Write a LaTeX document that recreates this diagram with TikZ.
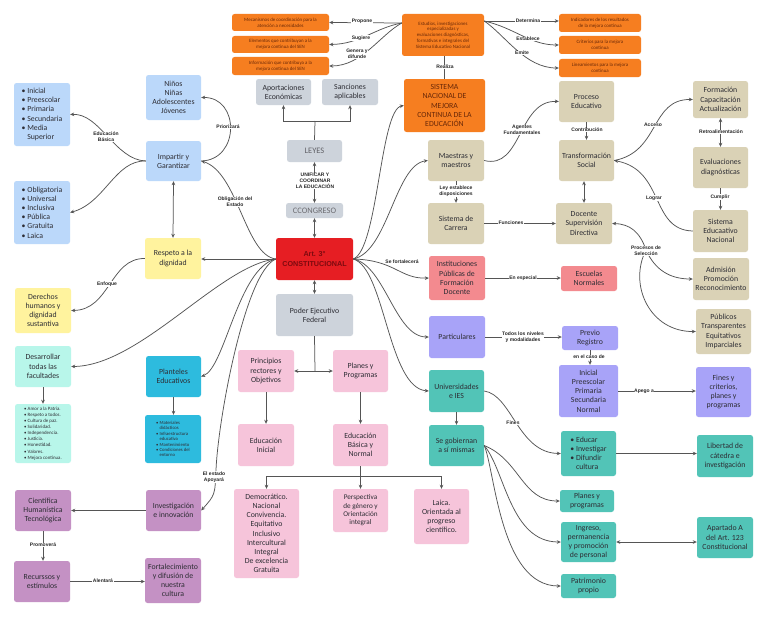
\documentclass[tikz,border=0pt]{standalone}
\usepackage{fontspec}
\setmainfont{Carlito}
\newfontfamily\labfont{Liberation Sans}
\usetikzlibrary{arrows.meta}
\definecolor{org}{RGB}{246,126,32}
\definecolor{orgtx}{RGB}{105,40,8}
\definecolor{redb}{RGB}{230,30,35}
\definecolor{redtx}{RGB}{125,10,15}
\definecolor{gry}{RGB}{205,211,219}
\definecolor{blu}{RGB}{187,216,250}
\definecolor{yel}{RGB}{255,243,158}
\definecolor{mnt}{RGB}{184,246,234}
\definecolor{cya}{RGB}{45,187,222}
\definecolor{pur}{RGB}{196,145,196}
\definecolor{pnk}{RGB}{246,196,218}
\definecolor{bge}{RGB}{218,210,182}
\definecolor{slm}{RGB}{243,138,143}
\definecolor{lav}{RGB}{168,163,248}
\definecolor{tea}{RGB}{82,196,183}
\definecolor{txt}{RGB}{45,45,52}
\definecolor{ln}{RGB}{85,85,85}
\newcommand\bxf{\fontsize{7.8}{9.2}\selectfont}
\newcommand\lbf{\labfont\fontsize{5}{6}\selectfont\bfseries}
\newcommand\smf{\fontsize{4.9}{5.8}\selectfont}
\newcommand\lsf{\fontsize{4.9}{6.1}\selectfont}
\newcommand\psf{\fontsize{4.7}{5.4}\selectfont}
\newcommand\bx[7]{%
 \pgfmathsetmacro\bxw{#4-#2}\pgfmathsetmacro\bxh{#5-#3}%
 \pgfmathsetmacro\bxx{(#2+#4)/2}\pgfmathsetmacro\bxy{(#3+#5)/2}%
 \node[box,#6,minimum width=\bxw pt,minimum height=\bxh pt] (#1) at (\bxx,\bxy) {#7};}
\tikzset{
 box/.style={rectangle,rounded corners=2.5pt,draw=none,align=center,text=txt,font=\bxf,inner sep=1pt},
 lab/.style={font=\lbf,text=black!85,align=center,inner sep=0.6pt,fill=white},
 arr/.style={draw=ln,line width=0.75pt,-{Stealth[length=4pt,width=3.6pt]}},
 darr/.style={draw=ln,line width=0.75pt,{Stealth[length=4pt,width=3.6pt]}-{Stealth[length=4pt,width=3.6pt]}},
 pline/.style={draw=ln,line width=0.75pt},
 sOrg/.style={fill=org,text=orgtx},
 sOrgS/.style={fill=org,text=orgtx,font=\smf},
 sRed/.style={fill=redb,text=redtx,font=\labfont\fontsize{7.2}{9.2}\selectfont\bfseries},
 sGry/.style={fill=gry},
 sBlu/.style={fill=blu},
 sYel/.style={fill=yel},
 sMnt/.style={fill=mnt},
 sCya/.style={fill=cya},
 sPur/.style={fill=pur},
 sPnk/.style={fill=pnk},
 sBge/.style={fill=bge},
 sSlm/.style={fill=slm},
 sLav/.style={fill=lav},
 sTea/.style={fill=tea},
}
\begin{document}
\begin{tikzpicture}[x=1pt,y=-1pt]
\fill[white] (0,0) rectangle (768,618);
\useasboundingbox (0,0) rectangle (768,618);
% ---- top orange
\bx{mec}{232}{14}{329}{31}{sOrgS}{Mecanismos de coordinación para la\\atención a necesidades}
\bx{ele}{232}{36}{329}{53}{sOrgS}{Elementos que contribuyan a la\\mejora continua del SEN}
\bx{inf}{232}{57}{329}{75}{sOrgS}{Información que contribuya a la\\mejora continua del SEN}
\bx{est}{402}{14}{484}{56}{sOrgS}{Estudios, investigaciones\\especializadas y\\evaluaciones diagnósticas,\\formativas e integrales del\\Sistema Educativo Nacional}
\bx{ind}{559}{14}{641}{32}{sOrgS}{Indicadores de los resultados\\de la mejora continua}
\bx{cri}{559}{36}{641}{54}{sOrgS}{Criterios para la mejora\\continua}
\bx{lin}{559}{59}{641}{77}{sOrgS}{Lineamientos para la mejora\\continua}
\bx{sis}{404}{79}{485}{132}{sOrg}{SISTEMA\\NACIONAL DE\\MEJORA\\CONTINUA DE LA\\EDUCACIÓN}
% ---- center column
\bx{apo}{256}{79}{311}{105}{sGry}{Aportaciones\\Económicas}
\bx{san}{322}{79}{378}{105}{sGry}{Sanciones\\aplicables}
\bx{ley}{287}{140}{342}{162}{sGry,text=txt!75,font=\fontsize{8.4}{9}\selectfont}{LEYES}
\bx{con}{286}{203}{343}{218}{sGry,text=txt!70,font=\fontsize{8.4}{9}\selectfont}{CCONGRESO}
\bx{art}{276}{238}{353}{280}{sRed}{Art. 3°\\CONSTITUCIONAL}
\bx{pod}{276}{294}{353}{336}{sGry}{Poder Ejecutivo\\Federal}
\bx{pri}{238}{350}{294}{392}{sPnk}{Principios\\rectores y\\Objetivos}
\bx{ppr}{333}{350}{388}{392}{sPnk}{Planes y\\Programas}
\bx{edi}{238}{424}{294}{466}{sPnk}{Educación\\Inicial}
\bx{edb}{333}{424}{388}{466}{sPnk}{Educación\\Básica y\\Normal}
\bx{dem}{234}{489}{299}{578}{sPnk}{Democrático.\\Nacional\\Convivencia.\\Equitativo\\Inclusivo\\Intercultural\\Integral\\De excelencia\\Gratuita}
\bx{per}{333}{489}{388}{532}{sPnk,font=\fontsize{7.2}{8.4}\selectfont}{Perspectiva\\de género y\\Orientación\\integral}
\bx{lai}{414}{489}{469}{544}{sPnk}{Laica.\\Orientada al\\progreso\\científico.}
% ---- left side
\bx{nin}{146}{75}{201}{120}{sBlu}{Niños\\Niñas\\Adolescentes\\Jóvenes}
\bx{imp}{146}{141}{201}{181}{sBlu}{Impartir y\\Garantizar}
\bx{ini}{14}{83}{70}{146}{sBlu,align=left}{• Inicial\\• Preescolar\\• Primaria\\• Secundaria\\• Media\\\hphantom{• }Superior}
\bx{obl}{14}{181}{70}{244}{sBlu,align=left}{• Obligatoria\\• Universal\\• Inclusiva\\• Pública\\• Gratuita\\• Laica}
\bx{res}{145}{238}{201}{279}{sYel}{Respeto a la\\dignidad}
\bx{der}{15}{288}{71}{333}{sYel}{Derechos\\humanos y\\dignidad\\sustantiva}
\bx{des}{15}{346}{71}{387}{sMnt}{Desarrollar\\todas las\\facultades}
\bx{amo}{15}{404}{71}{463}{sMnt,align=left,font=\lsf}{• Amor a la Patria.\\• Respeto a todos.\\• Cultura de paz.\\• Solidaridad.\\• Independencia.\\• Justicia.\\• Honestidad.\\• Valores.\\• Mejora continua.}
\bx{pla}{146}{356}{201}{397}{sCya}{Planteles\\Educativos}
\bx{pll}{145}{415}{201}{463}{sCya,align=left,font=\psf}{• Materiales\\\hphantom{• }didácticos\\• Infraestructura\\\hphantom{• }educativa\\• Mantenimiento\\• Condiciones del\\\hphantom{• }entorno}
\bx{inv}{146}{490}{201}{531}{sPur}{Investigación\\e innovación}
\bx{cie}{15}{490}{71}{531}{sPur}{Científica\\Humanística\\Tecnológica}
\bx{rec}{14}{561}{70}{602}{sPur}{Recurssos y\\estímulos}
\bx{fort}{145}{558}{201}{603}{sPur}{Fortalecimiento\\y difusión de\\nuestra\\cultura}
% ---- right side
\bx{mae}{428}{140}{484}{181}{sBge}{Maestras y\\maestros}
\bx{pro}{559}{81}{614}{122}{sBge}{Proceso\\Educativo}
\bx{tra}{559}{140}{614}{181}{sBge}{Transformación\\Social}
\bx{car}{428}{203}{484}{244}{sBge}{Sistema de\\Carrera}
\bx{doc}{556}{203}{612}{244}{sBge}{Docente\\Supervisión\\Directiva}
\bx{ipf}{429}{256}{485}{300}{sSlm}{Instituciones\\Públicas de\\Formación\\Docente}
\bx{esc}{561}{266}{617}{291}{sSlm}{Escuelas\\Normales}
\bx{par}{429}{316}{485}{358}{sLav}{Particulares}
\bx{prv}{562}{326}{618}{350}{sLav}{Previo\\Registro}
\bx{inl}{559}{365}{618}{417}{sLav}{Inicial\\Preescolar\\Primaria\\Secundaria\\Normal}
\bx{fin}{696}{367}{751}{417}{sLav}{Fines y\\criterios,\\planes y\\programas}
\bx{uni}{429}{370}{484}{412}{sTea}{Universidades\\e IES}
\bx{gob}{429}{425}{484}{466}{sTea}{Se gobiernan\\a sí mismas}
\bx{edu}{561}{431}{616}{476}{sTea,align=left}{• Educar\\• Investigar\\• Difundir\\\hphantom{• }cultura}
\bx{lib}{697}{435}{753}{477}{sTea}{Libertad de\\cátedra e\\investigación}
\bx{plp}{560}{490}{614}{512}{sTea}{Planes y\\programas}
\bx{ing}{561}{522}{616}{562}{sTea}{Ingreso,\\permanencia\\y promoción\\de personal}
\bx{apa}{697}{517}{753}{558}{sTea}{Apartado A\\del Art. 123\\Constitucional}
\bx{pat}{561}{574}{616}{598}{sTea}{Patrimonio\\propio}
\bx{for}{693}{81}{748}{118}{sBge}{Formación\\Capacitación\\Actualización}
\bx{eva}{693}{147}{748}{188}{sBge}{Evaluaciones\\diagnósticas}
\bx{sen}{693}{210}{748}{252}{sBge}{Sistema\\Educaativo\\Nacional}
\bx{adm}{693}{258}{749}{300}{sBge}{Admisión\\Promoción\\Reconocimiento}
\bx{pub}{696}{309}{751}{354}{sBge}{Públicos\\Transparentes\\Equitativos\\Imparciales}
% ---- connectors: top
\coordinate (el) at ([yshift=12pt]est.west);
\coordinate (er) at ([yshift=14pt]est.east);
\draw[arr] (el) -- (mec.east);
\draw[arr] (el) .. controls (375,28) and (360,44) .. (ele.east);
\draw[arr] (el) .. controls (380,35) and (362,66) .. (inf.east);
\draw[arr] (er) -- (er -| ind.west);
\draw[arr] (er) .. controls (515,28) and (530,45) .. (cri.west);
\draw[arr] (er) .. controls (505,35) and (525,68) .. (lin.west);
\draw[pline] (sis.north) -- (sis.north |- est.south);
\node[lab] (lprop) at (362,21) {Propone};
\node[lab] (lsug) at (361,38) {Sugiere};
\node[lab] (lgen) at (357,54) {Genera y\\difunde};
\node[lab] (ldet) at (528,21) {Determina};
\node[lab] (lest) at (528,39) {Establece};
\node[lab] (lemi) at (522,53) {Emite};
\node[lab] (lrea) at (445,67) {Realiza};
% ---- center
\coordinate (lt) at (315,121);
\draw[pline] (ley.north) -- (lt);
\draw[arr] (lt) -| (apo.south);
\draw[arr] (lt) -| (san.south);
\draw[darr] (con.north) -- (ley.south);
\node[lab] (luni) at (315,181) {UNIFICAR Y\\COORDINAR\\LA EDUCACIÓN};
\draw[darr] (art.north) -- (con.south);
\draw[darr] (art.south) -- (pod.north);
\coordinate (pt) at (315,371);
\draw[pline] (pod.south) -- (pt);
\draw[arr] (pt) -- (pri.east);
\draw[arr] (pt) -- (ppr.west);
\draw[arr] (pri.south) -- (edi.north);
\draw[arr] (ppr.south) -- (edb.north);
\coordinate (bt) at (360.5,476);
\draw[pline] (edb.south) -- (bt);
\draw[arr] (bt) -| (dem.north);
\draw[arr] (bt) -- (per.north);
\draw[arr] (bt) -| (lai.north);
% ---- art left
\draw[arr] (art.west) .. controls (245,255) and (238,172) .. (imp.east);
\draw[arr] (art.west) -- (art.west -| res.east);
\draw[arr] (art.west) .. controls (220,265) and (140,366) .. (des.east);
\draw[arr] (art.west) .. controls (238,268) and (225,368) .. (pla.east);
\draw[arr] (art.west) .. controls (245,272) and (218,420) .. (216,470) .. controls (215,495) .. (inv.east);
\node[lab] (lobl) at (235,202) {Obligación del\\Estado};
\node[lab] (lapo) at (214,477) {El estado\\Apoyará};
% ---- left
\draw[arr] (imp.east) .. controls (240,160) and (240,97) .. (nin.east);
\node[lab] (lpri) at (228,127) {Priorizará};
\draw[arr] (imp.west) .. controls (115,160) and (100,113) .. (ini.east);
\draw[arr] (imp.west) .. controls (115,160) and (105,203) .. (obl.east);
\node[lab] (leb) at (106,137) {Educación\\Básica};
\draw[darr] (imp.south) -- (res.north);
\draw[arr] (res.west) .. controls (110,258) and (110,310) .. (der.east);
\node[lab] (lenf) at (107,284) {Enfoque};
\draw[arr] (des.south) -- (amo.north);
\draw[arr] (pla.south) -- (pla.south |- pll.north);
\draw[arr] (inv.west) -- (inv.west -| cie.east);
\draw[arr] (cie.south) -- (cie.south |- rec.north);
\node[lab] (lprom) at (43,545) {Promoverá};
\draw[arr] (rec.east) -- (rec.east -| fort.west);
\node[lab] (lale) at (103,581) {Alentará};
% ---- art right
\draw[arr] (art.east) .. controls (378,250) and (380,110) .. (sis.west);
\draw[arr] (art.east) .. controls (388,252) and (395,165) .. (mae.west);
\draw[arr] (art.east) .. controls (395,260) and (400,279) .. (ipf.west);
\node[lab] (lfor) at (402,262) {Se fortalecerá};
\draw[arr] (art.east) .. controls (385,265) and (395,337) .. (par.west);
\draw[arr] (art.east) .. controls (385,268) and (388,388) .. (uni.west);
% ---- right side
\draw[arr] (mae.east) .. controls (522,170) and (518,100) .. (pro.west);
\node[lab] (lage) at (522,130) {Agentes\\Fundamentales};
\draw[arr] (pro.south) -- (pro.south |- tra.north);
\node[lab] (lcon) at (587,130) {Contribución};
\draw[arr] (mae.south) -- (car.north);
\node[lab] (lley) at (456,191) {Ley establece\\disposiciones};
\draw[arr] (car.east) -- (doc.west);
\node[lab] (lfun) at (511,223) {Funciones};
\draw[darr] (doc.north) -- (doc.north |- tra.south);
\draw[arr] (tra.east) .. controls (660,152) and (650,99) .. (for.west);
\node[lab] (lacc) at (653,125) {Acceso};
\draw[darr] (for.south) -- (eva.north);
\node[lab] (lret) at (721,132) {Retroalimentación};
\draw[arr] (eva.south) -- (sen.north);
\node[lab] (lcum) at (720,197) {Cumplir};
\draw[arr] (sen.west) .. controls (650,230) and (665,170) .. (tra.east);
\node[lab] (llog) at (654,198) {Lograr};
\coordinate (ps) at (646,250);
\draw[arr] (ps) .. controls (640,232) and (630,224) .. (doc.east);
\draw[arr] (ps) .. controls (655,270) and (670,279) .. (adm.west);
\draw[arr] (ps) .. controls (628,285) and (650,332) .. (pub.west);
\node[lab] (lpro) at (646,251) {Procesos de\\Selección};
\draw[arr] (ipf.east) -- (ipf.east -| esc.west);
\node[lab] (lesp) at (523,278) {En especial};
\draw[arr] (par.east) -- (par.east -| prv.west);
\node[lab] (ltod) at (523,337) {Todos los niveles\\y modalidades};
\draw[arr] (prv.south) -- (prv.south |- inl.north);
\node[lab] (lcas) at (589,357) {en el caso de};
\draw[arr] (inl.east) -- (inl.east -| fin.west);
\node[lab] (lape) at (644,391) {Apego a};
\draw[arr] (uni.south) -- (gob.north);
\draw[arr] (uni.east) .. controls (512,395) and (518,453) .. (edu.west);
\node[lab] (lfin) at (513,423) {Fines};
\draw[arr] (edu.east) -- (edu.east -| lib.west);
\draw[arr] (gob.east) .. controls (520,460) and (522,501) .. (plp.west);
\draw[arr] (gob.east) .. controls (505,470) and (510,542) .. (ing.west);
\draw[arr] (gob.east) .. controls (495,470) and (500,586) .. (pat.west);
\draw[darr] (ing.east) -- (ing.east -| apa.west);
\end{tikzpicture}
\end{document}
